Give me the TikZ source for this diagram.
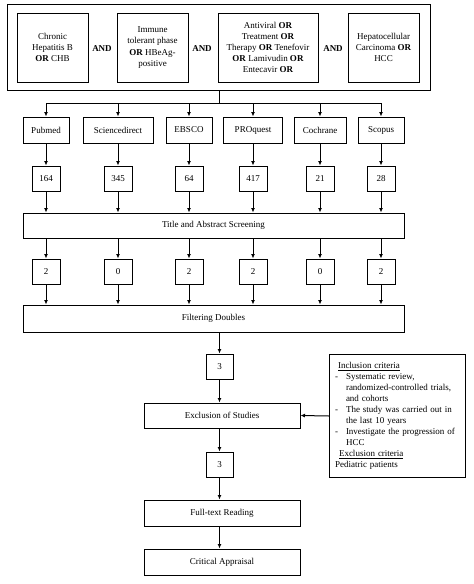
\documentclass[tikz,border=0pt]{standalone}
\usepackage{fontspec}
\setmainfont{Liberation Serif}
\usetikzlibrary{arrows.meta,positioning,calc}
\newcommand{\critdash}{\makebox[11pt][l]{-}}
\newcommand{\critgap}{\hspace*{11pt}}

\tikzset{
  box/.style={draw,line width=1pt,align=center,inner sep=1pt,font=\fontsize{9}{11.2}\selectfont},
  arr/.style={-{Latex[length=4.5pt,width=4pt]},line width=1pt},
  ln/.style={line width=1pt},
  andlabel/.style={font=\fontsize{9}{11}\selectfont\bfseries}
}

\begin{document}
\begin{tikzpicture}[x=1pt,y=-1pt]
\useasboundingbox (0,0) rectangle (474,584);
% search query
\node[draw,line width=1pt,minimum width=423pt,minimum height=86pt] (query) at (218.5,47) {};
\node[box,minimum width=71pt,minimum height=69pt] (q0) at (52.5,47.5) {Chronic\\Hepatitis B\\\textbf{OR} CHB};
\node[box,minimum width=71pt,minimum height=69pt] (q1) at (152.5,47.5) {Immune\\tolerant phase\\\textbf{OR} HBeAg-\\positive};
\node[box,minimum width=100pt,minimum height=69pt] (q2) at (268,47.5) {Antiviral \textbf{OR}\\Treatment \textbf{OR}\\Therapy \textbf{OR} Tenefovir\\\textbf{OR} Lamivudin \textbf{OR}\\Entecavir \textbf{OR}};
\node[box,minimum width=71pt,minimum height=69pt] (q3) at (383.5,47.5) {Hepatocellular\\Carcinoma \textbf{OR}\\HCC};
\node[andlabel] at (102,49) {AND};
\node[andlabel] at (202,49) {AND};
\node[andlabel] at (333,49) {AND};

% databases and counts
\foreach \i/\x/\w/\name/\a/\b in {0/46/46/Pubmed/164/2,1/118/70/Sciencedirect/345/0,2/189/46/EBSCO/64/2,3/253/59/PROquest/417/2,4/320/52/Cochrane/21/0,5/381/46/Scopus/28/2}{
  \node[box,minimum width=\w pt,minimum height=26pt] (db\i) at (\x,130) {\name};
  \node[box,minimum width=28pt,minimum height=25pt] (n\i) at (\x,178.5) {\a};
  \node[box,minimum width=28pt,minimum height=25pt] (m\i) at (\x,271.5) {\b};
}
\node[box,minimum width=381pt,minimum height=25pt] (screen) at (213.5,225.5) {Title and Abstract Screening};
\node[box,minimum width=381pt,minimum height=27pt] (filter) at (213.5,318.5) {Filtering Doubles};

\coordinate (split) at (219,103);
\draw[ln] (query.south -| split) -- (split);
\draw[ln] (split -| db0) -- (split -| db5);
\foreach \i in {0,...,5}{
  \draw[arr] (split -| db\i) -- (db\i.north);
  \draw[arr] (db\i) -- (n\i);
  \draw[arr] (n\i.south) -- (n\i |- screen.north);
  \draw[arr] (n\i |- screen.south) -- (m\i.north);
  \draw[arr] (m\i.south) -- (m\i |- filter.north);
}

% selection
\node[box,minimum width=27pt,minimum height=25pt] (three1) at (219.5,366.5) {3};
\node[box,minimum width=156pt,minimum height=25pt] (excl) at (222,415.5) {Exclusion of Studies};
\node[box,minimum width=27pt,minimum height=25pt] (three2) at (219.5,464.5) {3};
\node[box,minimum width=156pt,minimum height=26pt] (full) at (222,513) {Full-text Reading};
\node[box,minimum width=156pt,minimum height=26pt] (appr) at (222,562) {Critical Appraisal};
\node[box,anchor=north west,minimum height=123pt,text width=125pt,align=left,inner xsep=5.5pt,font=\fontsize{9}{11}\selectfont] (incl) at (329,354) {%
\hspace*{3pt}\underline{Inclusion criteria}\\
\critdash Systematic review,\\
\critgap randomized-controlled trials,\\
\critgap and cohorts\\
\critdash The study was carried out in\\
\critgap the last 10 years\\
\critdash Investigate the progression of\\
\critgap HCC\\
\hspace*{4pt}\underline{Exclusion criteria}\\
Pediatric patients};

\draw[arr] (three1 |- filter.south) -- (three1.north);
\draw[arr] (three1.south) -- (three1 |- excl.north);
\draw[arr] (three2 |- excl.south) -- (three2.north);
\draw[arr] (three2.south) -- (three2 |- full.north);
\draw[arr] (three2 |- full.south) -- (three2 |- appr.north);
\draw[arr] (incl.west) -- (excl.east);
\end{tikzpicture}
\end{document}
